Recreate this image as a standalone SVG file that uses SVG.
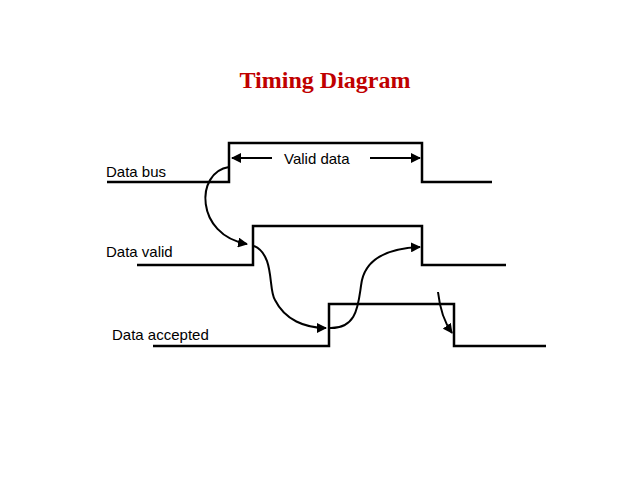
<svg xmlns="http://www.w3.org/2000/svg" width="638" height="478" viewBox="0 0 638 478">
<style>
.s{fill:none;stroke:#000;stroke-width:2.5}
.c{fill:none;stroke:#000;stroke-width:2}
.t{font-family:"Liberation Sans",Arial,sans-serif;font-size:15px;fill:#000}
</style>
<defs><marker id="a" viewBox="0 0 10 10" refX="9" refY="5" markerWidth="5" markerHeight="5" orient="auto"><path d="M0,0L10,5L0,10z"/></marker></defs>
<rect width="638" height="478" fill="#fff"/>
<text x="325" y="88" text-anchor="middle" font-family="Liberation Serif,serif" font-weight="bold" font-size="24" fill="#c00000">Timing Diagram</text>
<g id="databus"><path class="s" d="M107,182H229V143H422V182H492"/><text class="t" x="106" y="177">Data bus</text></g>
<g id="datavalid"><path class="s" d="M137,265H253V226H422V265H506"/><text class="t" x="106" y="257">Data valid</text></g>
<g id="dataaccepted"><path class="s" d="M153,346H329V304H454V346H546"/><text class="t" x="112" y="340">Data accepted</text></g>
<g id="validdata"><text class="t" x="284" y="164">Valid data</text></g>
<g id="connectors">
<path class="c" marker-end="url(#a)" d="M272,158H232"/>
<path class="c" marker-end="url(#a)" d="M370,158H420"/>
<path class="c" marker-end="url(#a)" d="M229,167C195,172 195,235 247,244"/>
<path class="c" marker-end="url(#a)" d="M254,246C275,255 268,290 275,300C285,320 305,328 326,328"/>
<path class="c" marker-end="url(#a)" d="M328,328C360,330 358,300 362,280C368,255 395,248 420,247"/>
<path class="c" marker-end="url(#a)" d="M438,292C440,310 444,322 452,333"/>
</g>
</svg>
